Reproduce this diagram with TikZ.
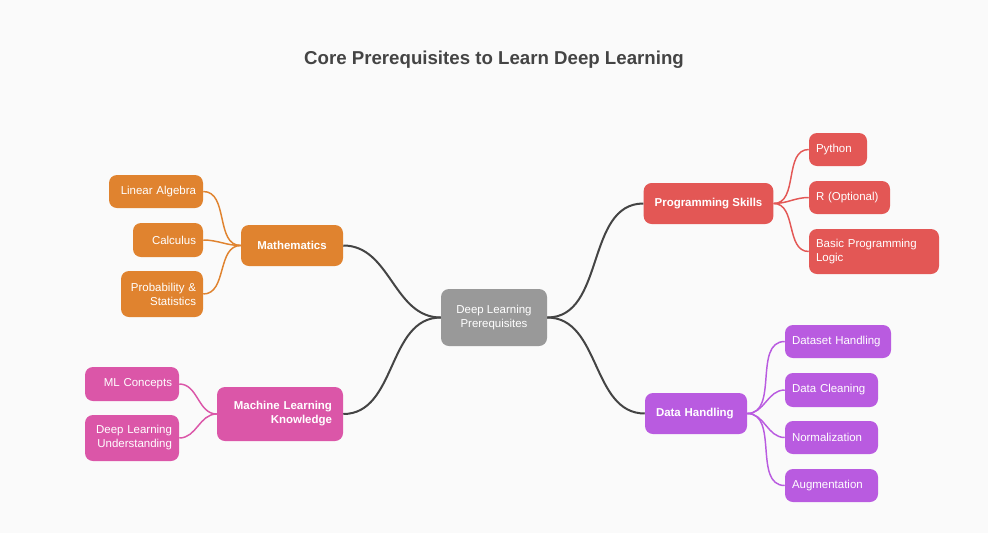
\documentclass[tikz,border=0pt]{standalone}
\usepackage{fontspec}
\setmainfont{Liberation Sans}
\definecolor{bgc}{HTML}{FAFAFA}
\definecolor{ttl}{HTML}{444444}
\definecolor{dark}{HTML}{444444}
\definecolor{hubgray}{HTML}{999999}
\definecolor{orng}{HTML}{E0832F}
\definecolor{rd}{HTML}{E35755}
\definecolor{pnk}{HTML}{DB56A8}
\definecolor{prp}{HTML}{B95BE0}
\begin{document}
\begin{tikzpicture}[x=0.75pt,y=-0.75pt,
	bx/.style={rounded corners=6pt,text=white,inner ysep=1pt,font=\fontsize{8.6}{10.5}\selectfont},
	kid/.style={bx,fill=#1,inner xsep=5.25pt},
	hub/.style={bx,fill=#1,inner xsep=8.25pt,font=\bfseries\fontsize{8.6}{10.5}\selectfont},
	lk/.style={draw=#1,line width=1.1pt},
	sz/.style 2 args={text width=#1,minimum height=#2}]
	\fill[bgc] (0,0) rectangle (988,533);
	\node(t)[text=ttl,font=\bfseries\fontsize{14}{16}\selectfont] at (494,60) {Core Prerequisites to Learn Deep Learning};
	\node(c)[bx,fill=hubgray,minimum width=79.5pt,minimum height=42.75pt,align=center] at (494,317.5) {Deep Learning\\Prerequisites};
	\node(m)[hub=orng,minimum width=76.5pt,minimum height=30.75pt] at (292,245.5) {Mathematics};
	\node(m1)[kid=orng,sz={60pt}{24.75pt},align=right] at (156,191.5) {Linear Algebra};
	\node(m2)[kid=orng,sz={42pt}{25.5pt},align=right] at (168,240) {Calculus};
	\node(m3)[kid=orng,sz={51pt}{34.5pt},align=right] at (162,294) {Probability \&\\Statistics};
	\node(k)[hub=pnk,sz={78pt}{40.5pt},align=right] at (280,414) {Machine Learning\\Knowledge};
	\node(k1)[kid=pnk,sz={60pt}{25.5pt},align=right] at (132,384) {ML Concepts};
	\node(k2)[kid=pnk,sz={60pt}{34.5pt},align=right] at (132,438) {Deep Learning\\Understanding};
	\node(p)[hub=rd,minimum width=95.25pt,minimum height=30.75pt] at (708.5,203.5) {Programming Skills};
	\node(p1)[kid=rd,sz={33pt}{24.75pt},align=left] at (838,149.5) {Python};
	\node(p2)[kid=rd,sz={50.25pt}{24.75pt},align=left] at (849.5,197.5) {R (Optional)};
	\node(p3)[kid=rd,sz={87pt}{33.75pt},align=left] at (874,251.5) {Basic Programming\\Logic};
	\node(d)[hub=prp,sz={60pt}{30.75pt},align=left] at (696,413.5) {Data Handling};
	\node(d1)[kid=prp,sz={69pt}{24.75pt},align=left] at (838,341.5) {Dataset Handling};
	\node(d2)[kid=prp,sz={59.25pt}{25.5pt},align=left] at (831.5,390) {Data Cleaning};
	\node(d3)[kid=prp,sz={59.25pt}{24.75pt},align=left] at (831.5,437.5) {Normalization};
	\node(d4)[kid=prp,sz={59.25pt}{24.75pt},align=left] at (831.5,485.5) {Augmentation};
	\draw[lk=dark,line width=1.5pt] (c.west) to[out=180,in=0] (m.east);
	\draw[lk=dark,line width=1.5pt] (c.west) to[out=180,in=0] (k.east);
	\draw[lk=dark,line width=1.5pt] (c.east) to[out=0,in=180] (p.west);
	\draw[lk=dark,line width=1.5pt] (c.east) to[out=0,in=180] (d.west);
	\foreach \n in {m1,m2,m3} \draw[lk=orng] (m.west) to[out=180,in=0] (\n.east);
	\foreach \n in {k1,k2} \draw[lk=pnk] (k.west) to[out=180,in=0] (\n.east);
	\foreach \n in {p1,p2,p3} \draw[lk=rd] (p.east) to[out=0,in=180] (\n.west);
	\foreach \n in {d1,d2,d3,d4} \draw[lk=prp] (d.east) to[out=0,in=180] (\n.west);
\end{tikzpicture}
\end{document}
